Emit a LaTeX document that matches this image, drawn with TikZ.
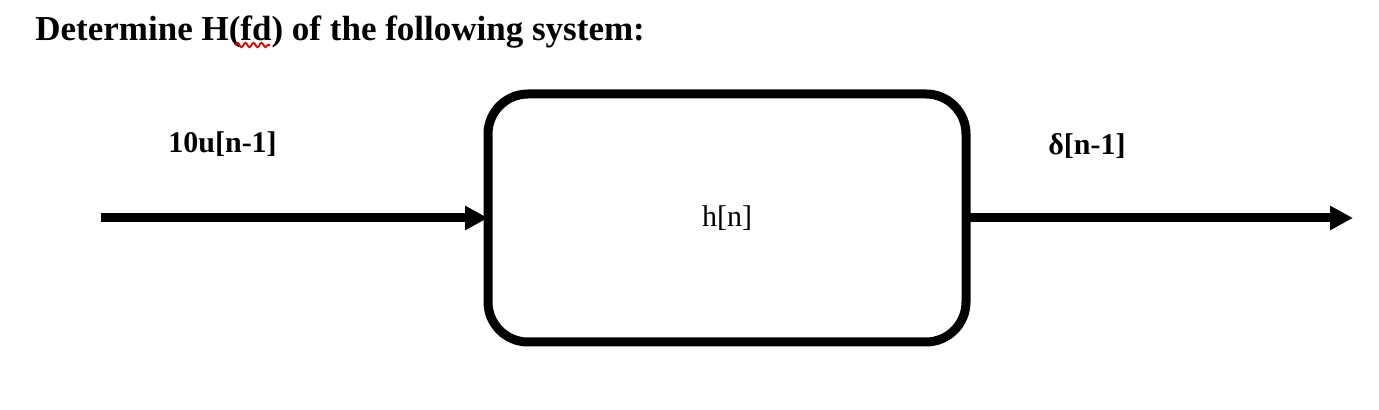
\documentclass[tikz,border=0pt]{standalone}
\usepackage{fontspec}
\setmainfont{Liberation Serif}
\usetikzlibrary{arrows.meta,decorations.pathmorphing}
\begin{document}
\begin{tikzpicture}[x=0.5pt,y=-0.5pt,
  sysbox/.style={draw=black,line width=4.5pt,rounded corners=20pt,minimum width=239pt,minimum height=124pt,inner sep=0pt,outer sep=0pt,font=\fontsize{15}{18}\selectfont},
  sigarrow/.style={line width=4.5pt,-{Triangle[length=11.5pt,width=11.5pt]}},
  siglabel/.style={anchor=base west,inner sep=0pt,font=\fontsize{15}{18}\selectfont\bfseries},
  titletext/.style={anchor=base west,inner sep=0pt,font=\fontsize{17.5}{21}\selectfont\bfseries}]
\useasboundingbox (0,0) rectangle (1379,410);
\node[titletext] (title) at (35,41) {Determine H(fd) of the following system:};
\node[sysbox] (box) at (727,218) {h[n]};
\coordinate (in) at (101,218);
\coordinate (out) at (1353,218);
\draw[sigarrow] (in) -- (box.west);
\draw[sigarrow] (box.east) -- (out);
\node[siglabel] (xlabel) at (168,153) {10u[n-1]};
\node[siglabel] (ylabel) at (1048,155) {δ[n-1]};
\coordinate (w1) at (235,45);
\coordinate (w2) at (270,45);
\draw[red!85!black,line width=0.9pt,decorate,decoration={snake,amplitude=1.1pt,segment length=4pt}] (w1) -- (w2);
\end{tikzpicture}
\end{document}
